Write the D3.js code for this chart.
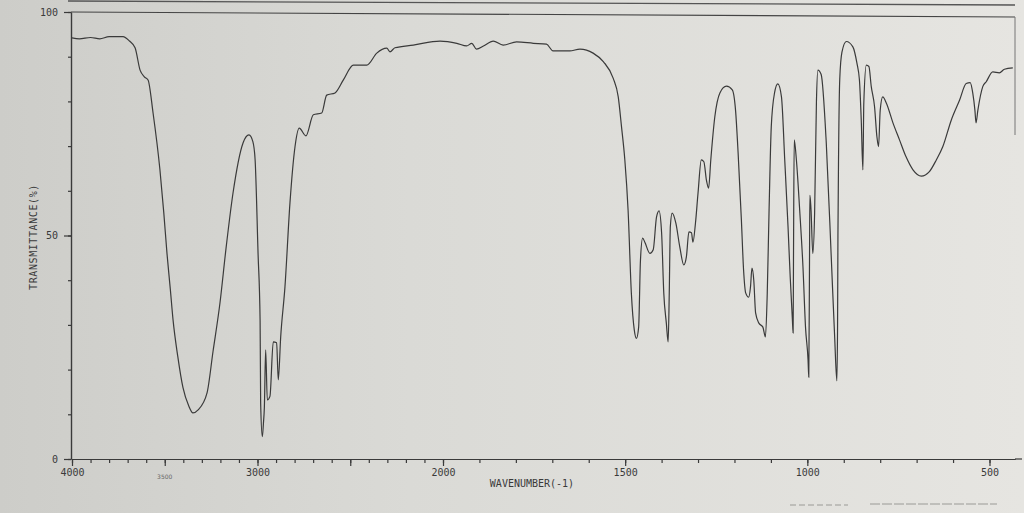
<!DOCTYPE html>
<script src="https://d3js.org/d3.v7.min.js"></script>
<style>
body { margin: 0; background: #d9d9d5; }
.axis text { font-family: "DejaVu Sans Mono", monospace; font-size: 10px; fill: #3a3a3a; }
.axis path, .axis line { stroke: #3a3a3a; stroke-width: 1.2px; }
</style>
<div id="chart"></div>
<script>
// spectrum (wavenumber in cm-1, transmittance in %)
var wavenumber = [4000,3960,3900,3850,3800,3725,3690,3660,3633,3610,3590,3563,3526,3505,3488,3470,3455,3430,3402,3370,3348,3320,3272,
  3240,3202,3170,3132,3078,3046,3025,3013,2997,2986,2983,2974,2968,2963,2956,2947,2933,2915,2897,2888,2875,2852,
  2825,2798,2775,2739,2699,2654,2627,2582,2537,2483,2411,2357,2303,2286,2259,2160,2016,1962,1935,1921,
  1908,1889,1862,1835,1798,1752,1716,1698,1652,1624,1588,1560,1533,1519,1510,1501,1492,1483,1475,1469,
  1463,1458,1452,1446,1432,1423,1414,1407,1400,1394,1387,1382,1379,1376,1371,1361,1350,1339,1332,1325,
  1318,1314,1307,1300,1291,1284,1277,1271,1265,1254,1240,1222,1206,1197,1190,1181,1175,1169,1161,1156,
  1152,1147,1142,1133,1122,1115,1110,1105,1099,1090,1081,1071,1062,1053,1047,1041,1039,1038,1036,1030,
  1021,1012,1005,998,996,994,993,990,985,980,975,971,962,948,934,925,919,917,916,914,
  911,905,893,875,864,857,852,847.5,845,838,831,824.5,815.5,809,804.5,800,793,783,765,747,
  729,710,687,665,646,628,605,582,564,553,546,540,537,532,518.5,509,491,473,459,436];
var transmittance = [94.2,94.0,94.3,94.0,94.5,94.5,93.5,92,87,85.5,84.8,77.4,64.7,55,46,38,31,23,16,11.8,10.3,11.0,14.8,
  24,35,47,59.5,70.7,72.5,71,67,46,31,12.5,5,8,11.6,24.4,13.2,14,26.2,26,17.7,27.3,38.5,
  57.3,69.8,74,72.3,77,77.4,81.4,81.9,84.8,88.1,88.1,90.8,91.9,91.1,92,92.6,93.5,93,92.4,93,
  91.7,92.4,93.5,92.6,93.3,93,92.8,91.3,91.3,91.7,90.8,88.9,85.2,81,74.3,67,55.7,37.1,28.9,27,
  29.5,44.5,49.4,48.5,46,46.8,54.1,55.5,50.6,37.1,30.4,26.2,37,52,55,52.8,47.4,43.4,45.2,50.8,
  50.6,48.5,52.8,59.5,66.9,66.5,62.4,60.6,66.9,76.5,81.9,83.4,82.6,78,68.5,53.5,42.3,37.1,36.2,38.5,
  42.7,40,32.7,30.4,29.5,27.3,37.1,55.7,74.3,81.9,83.9,81,66.9,52,40.7,31.1,28.2,44.5,71.4,66.9,
  55.7,43,29.5,22.1,18.3,44.5,59,56,46,55,80,87,86,70.7,44.5,27.3,17.5,30,50,70,
  85,91,93.4,92.2,88.6,84.8,75.8,64.7,79.6,88.1,87.8,83.3,78.8,72.1,69.9,78,81,79.6,75.2,71.4,
  67.6,64.7,63.3,64.3,66.9,69.9,75.8,80.3,84,84.2,81.9,78,75.2,78,83.3,84.4,86.6,86.4,87.2,87.5];

var xLabels = [4000,3000,2000,1500,1000,500];
var xLongTicks = [4000,3500,3000,2500,2000,1500,1000,500];
var yLabels = [0,50,100];

var width = 1024, height = 513;
var svg = d3.select("#chart").append("svg").attr("width",width).attr("height",height);

// paper photographed under uneven light
var grad = svg.append("defs").append("linearGradient").attr("id","paper");
grad.append("stop").attr("offset","0%").attr("stop-color","#cdcdc9");
grad.append("stop").attr("offset","40%").attr("stop-color","#dadad6");
grad.append("stop").attr("offset","100%").attr("stop-color","#e6e5e1");
svg.append("rect").attr("width",width).attr("height",height).attr("fill","url(#paper)");

// IR chart paper: 4000-2000 at half the scale of 2000-400
var x = d3.scaleLinear().domain([4000,2000,430]).range([72,443,1015]);
var y = d3.scaleLinear().domain([0,100]).range([459,12]);

var minorX = d3.range(4000,400,-100);
var minorY = d3.range(0,101,10);

svg.append("g").attr("class","axis").attr("transform","translate(0,459)")
  .call(d3.axisBottom(x).tickValues(minorX).tickSize(4).tickSizeOuter(0).tickFormat(""));
svg.append("g").attr("class","axis").attr("transform","translate(0,459)")
  .call(d3.axisBottom(x).tickValues(xLongTicks).tickSize(7).tickSizeOuter(0).tickPadding(3)
    .tickFormat(function(d) { return xLabels.indexOf(d) >= 0 ? d : ""; }));
svg.append("line").attr("x1",x(430)).attr("x2",1022).attr("y1",459).attr("y2",459)
  .attr("stroke","#3a3a3a").attr("stroke-width",1.2);

svg.append("g").attr("class","axis").attr("transform","translate(71,0)")
  .call(d3.axisLeft(y).tickValues(minorY).tickSize(3).tickSizeOuter(0).tickFormat(""));
svg.append("g").attr("class","axis").attr("transform","translate(71,0)")
  .call(d3.axisLeft(y).tickValues(yLabels).tickSize(7).tickSizeOuter(0).tickPadding(6));

// frame lines of the printed sheet
svg.append("line").attr("x1",71).attr("y1",y(100)).attr("x2",x(430)).attr("y2",y(100)+5)
  .attr("stroke","#444").attr("stroke-width",1.1);
svg.append("line").attr("x1",x(430)).attr("y1",y(100)+5).attr("x2",x(430)).attr("y2",135)
  .attr("stroke","#777").attr("stroke-width",1);
svg.append("line").attr("x1",68).attr("y1",1).attr("x2",x(430)).attr("y2",5)
  .attr("stroke","#555").attr("stroke-width",1.3);

// axis titles
svg.append("text").attr("x",532).attr("y",487).attr("text-anchor","middle")
  .style("font-family","DejaVu Sans Mono, monospace").style("font-size","10px").style("fill","#3a3a3a")
  .text("WAVENUMBER(-1)");
svg.append("text").attr("transform","translate(37,237) rotate(-90)").attr("text-anchor","middle")
  .style("font-family","DejaVu Sans Mono, monospace").style("font-size","10px").style("fill","#3a3a3a")
  .style("letter-spacing","0.6px").text("TRANSMITTANCE(%)");
svg.append("text").attr("x",x(3500)).attr("y",479).attr("text-anchor","middle")
  .style("font-family","DejaVu Sans, sans-serif").style("font-size","6px").style("fill","#666")
  .text("3500");

// spectrum trace
var pts = wavenumber.map(function(d,i) { return [d, transmittance[i]]; });
svg.append("path").datum(pts)
  .attr("fill","none").attr("stroke","#3a3a3a").attr("stroke-width",1.2)
  .attr("d", d3.line().curve(d3.curveMonotoneX)
    .x(function(d) { return x(d[0]); }).y(function(d) { return y(d[1]); }));

// faint marks at the bottom of the sheet
svg.append("line").attr("x1",790).attr("x2",848).attr("y1",505).attr("y2",505)
  .attr("stroke","#9a9a96").attr("stroke-dasharray","6,3");
svg.append("line").attr("x1",870).attr("x2",997).attr("y1",504).attr("y2",504)
  .attr("stroke","#9a9a96").attr("stroke-dasharray","10,2");
</script>
